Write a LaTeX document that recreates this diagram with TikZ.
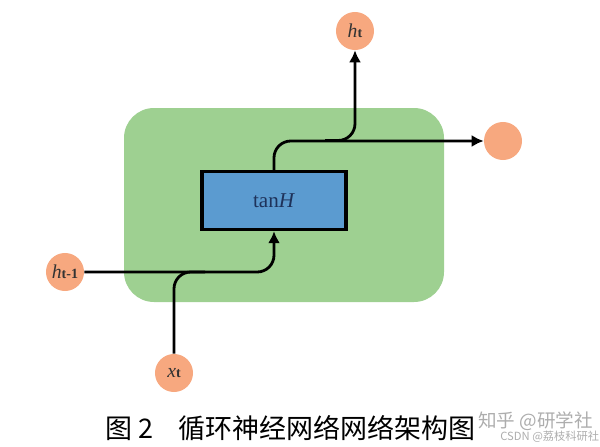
\documentclass[tikz,border=0pt]{standalone}
\usepackage{fontspec}
\setmainfont{Liberation Serif}
\newfontfamily\cjk{Noto Sans CJK SC}
\usepackage{tikz}
\usetikzlibrary{arrows.meta}
\definecolor{cellgreen}{RGB}{158,208,145}
\definecolor{cellblue}{RGB}{91,155,208}
\definecolor{portorange}{RGB}{247,168,127}
\definecolor{tantext}{RGB}{30,50,90}
\newcommand{\portidx}[1]{{\fontsize{10}{10}\selectfont\bfseries #1}}
\tikzset{
  port/.style={circle,fill=portorange,inner sep=0pt,minimum size=0.95cm,font=\fontsize{14}{14}\selectfont,text=black!80},
  wire/.style={line width=2pt,black,rounded corners=0.42cm},
  tip/.style={-{Latex[length=0.3cm,width=0.3cm]}},
  mark cn/.style={font=\cjk\fontsize{#1}{#1}\selectfont,text=black!32}
}
\begin{document}
\begin{tikzpicture}[x=0.025cm,y=-0.025cm]
    \useasboundingbox (0,0) rectangle (600,447);
    \fill[cellgreen,rounded corners=0.75cm] (124,108) rectangle (444,302);
    \node[draw=black,line width=2.4pt,fill=cellblue,minimum width=3.6cm,minimum height=1.45cm,inner sep=0pt,text=tantext,font=\fontsize{15}{15}\selectfont] (tanh) at (274,200.5){tan\textit{H}};
    \node[port] (ht) at (355,31){\textit{h}\portidx{t}};
    \node[port] (out) at (503,141){};
    \node[port] (hprev) at (65,272){\textit{h}\portidx{t-1}};
    \node[port] (xt) at (174,373){\textit{x}\portidx{t}};
    \coordinate (join) at (205,272);
    \coordinate (split) at (325,140.5);
    \draw[wire,tip] (hprev) -| (tanh.south);
    \draw[wire] (xt) |- (join);
    \draw[wire,tip] (tanh.north) |- (out);
    \draw[wire,tip] (split) -| (ht);
    \node[font=\cjk\fontsize{19.2}{19.2}\selectfont,anchor=west] (caption) at (101,428){图 2\hspace{0.9em}循环神经网络网络架构图};
    \node[mark cn=13.2,anchor=west,inner sep=0pt] (zhihu) at (478,421){知乎 @研学社};
    \node[mark cn=8,anchor=west,inner sep=0pt] (csdn) at (500,437){CSDN @荔枝科研社};
\end{tikzpicture}
\end{document}
